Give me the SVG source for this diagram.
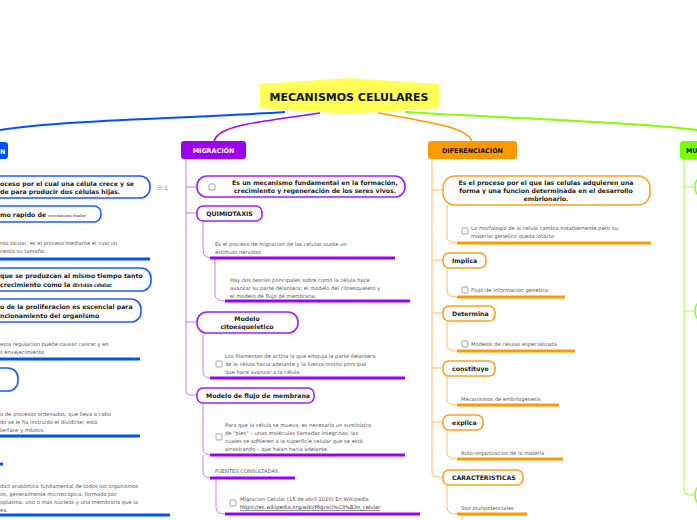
<svg xmlns="http://www.w3.org/2000/svg" width="697" height="520" viewBox="0 0 697 520">
<style>
text{font-family:"DejaVu Sans",Verdana,sans-serif;}
.b{font-weight:bold;font-size:6.2px;fill:#222;}
.s{font-size:5.2px;fill:#555;}
.nb{fill:#fff;stroke:#1a5cff;stroke-width:1.6;}
.np{fill:#fff;stroke:#a51bff;stroke-width:1.6;}
.no{fill:#fff;stroke:#ffa01e;stroke-width:1.6;}
.ub{stroke:#0050ff;stroke-width:3;}
.up{stroke:#9900ff;stroke-width:3;}
.uo{stroke:#ff9900;stroke-width:3;}
.cb{fill:#fff;stroke:#999;stroke-width:0.9;}
.lp{fill:none;stroke:#c77dff;stroke-width:1;}
.lo{fill:none;stroke:#ffbb66;stroke-width:1;}
.lg{fill:none;stroke:#aaff55;stroke-width:1.2;}
</style>
<rect width="697" height="520" fill="#fff"/>
<g id="connectors" fill="none">
<path d="M285,112 C200,118 60,120 0,130" stroke="#0050ff" stroke-width="2"/>
<path d="M320,113 C260,122 214,125 214,143" stroke="#a000ff" stroke-width="1.6"/>
<path d="M378,113 C430,122 472,128 472,143" stroke="#ff9900" stroke-width="1.6"/>
<path d="M405,112 C500,118 640,122 697,130" stroke="#80ff00" stroke-width="2"/>
<path class="lp" d="M186,159 V390 Q186,395 191,395 H197 M186,187 H197 M186,213 H197 M186,322 H197"/>
<path class="lp" d="M203,221 V250 Q203,258 212,258 M215,258 V295 Q215,301 225,301 M203,333 V372 Q203,378 212,378 M203,403 V449 Q203,455 212,455 M203,455 V472 Q203,478 212,478 M216,478 V508 Q216,514 226,514"/>
<path class="lo" d="M432,159 V472 Q432,477 437,477 H443 M432,190 H443 M432,260 H443 M432,313 H443 M432,368 H443 M432,422 H443"/>
<path class="lo" d="M447,205 V237 Q447,243 457,243 M447,268 V291 Q447,297 457,297 M447,321 V345 Q447,351 457,351 M447,376 V399 Q447,405 457,405 M447,430 V453 Q447,459 457,459 M447,485 V508 Q447,514 457,514 M462,514 V520"/>
<path class="lg" d="M684,159 V490 Q684,495 690,495 H697 M684,187 H697 M684,311 H697"/>
</g>
<g id="central">
<polygon points="260,84 349,78 439,84 439,108 349,114 260,108" fill="#ffff55"/>
<text x="349" y="100.5" text-anchor="middle" style="font-weight:bold;font-size:11px;fill:#111">MECANISMOS CELULARES</text>
</g>
<g id="division">
<rect x="-20" y="142" width="28" height="17" rx="3" fill="#0050ff"/>
<text x="0" y="153.5" style="font-weight:bold;font-size:6.4px;fill:#fff">N</text>
<rect class="nb" x="-40" y="176" width="190" height="22" rx="10"/>
<text class="b" x="0" y="186">oceso por el cual una célula crece y se</text>
<text class="b" x="0" y="194">de para producir dos células hijas.</text>
<text x="157" y="190" style="font-size:6px;fill:#888">☰ 1</text>
<rect class="nb" x="-40" y="206" width="141" height="16" rx="7"/>
<text class="b" x="0" y="216.5">mo rapido de <tspan style="font-family:'Liberation Serif',serif;font-size:5px;font-weight:normal">crecimiento tisular</tspan></text>
<text class="s" x="0" y="245">nto tisular, es el proceso mediante el cual un</text>
<text class="s" x="0" y="253">nenta su tamaño.</text>
<line class="ub" x1="0" y1="259" x2="150" y2="259"/>
<rect class="nb" x="-40" y="268" width="191" height="23" rx="10"/>
<text class="b" x="0" y="278">que se produzcan al mismo tiempo tanto</text>
<text class="b" x="0" y="286.5">crecimiento como la <tspan style="font-family:'Liberation Serif',serif;font-size:6px">división celular.</tspan></text>
<rect class="nb" x="-40" y="299" width="181" height="23" rx="10"/>
<text class="b" x="0" y="309">o de la proliferacion es escencial para</text>
<text class="b" x="0" y="317.5">ncionamiento del organismo</text>
<text class="s" x="0" y="346">esta regulacion puede causar cancer y en</text>
<text class="s" x="0" y="354">s envejecimiento</text>
<line class="ub" x1="0" y1="359" x2="140" y2="359"/>
<rect class="nb" x="-40" y="368" width="58" height="23" rx="10"/>
<text class="s" x="0" y="416">o de procesos ordenados, que lleva a cabo</text>
<text class="s" x="0" y="424">do se le ha instruido el dividirse; está</text>
<text class="s" x="0" y="432">terfase y mitosis.</text>
<line class="ub" x1="0" y1="436" x2="140" y2="436"/>
<line class="ub" x1="0" y1="464" x2="3" y2="464"/>
<text class="s" x="0" y="488">dad anatómica fundamental de todos los organismos</text>
<text class="s" x="0" y="496">os, generalmente microscópica, formada por</text>
<text class="s" x="0" y="504">oplasma, uno o más núcleos y una membrana que la</text>
<text class="s" x="0" y="512">ea.</text>
<line class="ub" x1="0" y1="515" x2="170" y2="515"/>
</g>
<g id="migracion">
<rect x="181" y="141" width="65" height="18" rx="3" fill="#a000f0"/>
<text x="213.5" y="153" text-anchor="middle" style="font-weight:bold;font-size:6.4px;fill:#fff">MIGRACIÓN</text>
<rect class="np" x="197" y="176" width="208" height="21" rx="10"/>
<rect class="cb" x="209" y="184" width="6" height="6" rx="1"/>
<text class="b" x="315" y="185" text-anchor="middle">Es un mecanismo fundamental en la formación,</text>
<text class="b" x="315" y="193" text-anchor="middle">crecimiento y regeneración de los seres vivos.</text>
<rect class="np" x="197" y="206" width="65" height="15" rx="6"/>
<text class="b" x="229.5" y="216" text-anchor="middle">QUIMIOTAXIS</text>
<text class="s" x="215" y="246">Es el proceso de migracion de las celulas aunte un</text>
<text class="s" x="215" y="254">estimulo nervioso</text>
<line class="up" x1="210" y1="258" x2="395" y2="258"/>
<text class="s" x="230" y="282">Hay dos teorías principales sobre como la célula hace</text>
<text class="s" x="230" y="290">avanzar su parte delantera: el modelo del citoesqueleto y</text>
<text class="s" x="230" y="298">el modelo de flujo de membrana.</text>
<line class="up" x1="225" y1="301" x2="410" y2="301"/>
<rect class="np" x="197" y="312" width="101" height="21" rx="10"/>
<text class="b" x="247" y="321" text-anchor="middle">Modelo</text>
<text class="b" x="247" y="329" text-anchor="middle">citoesqueletico</text>
<rect class="cb" x="216" y="361" width="6" height="6" rx="1"/>
<text class="s" x="225" y="358">Los filamentos de actina lo que empuja la parte delantera</text>
<text class="s" x="225" y="366">de la célula hacia adelante y la fuerza motriz principal</text>
<text class="s" x="225" y="374">que hace avanzar a la célula.</text>
<line class="up" x1="210" y1="378" x2="405" y2="378"/>
<rect class="np" x="197" y="388" width="117" height="15" rx="6"/>
<text class="b" x="206" y="398">Modelo de flujo de membrana</text>
<rect class="cb" x="216" y="434" width="6" height="6" rx="1"/>
<text class="s" x="225" y="427">Para que la célula se mueva, es necesario un suministro</text>
<text class="s" x="225" y="435">de "pies" – unas moléculas llamadas integrinas, las</text>
<text class="s" x="225" y="443">cuales se adhieren a la superficie celular que se está</text>
<text class="s" x="225" y="451">arrastrando – que halan hacia adelante.</text>
<line class="up" x1="210" y1="455" x2="405" y2="455"/>
<text class="s" x="215" y="473">FUENTES CONSULTADAS</text>
<line class="up" x1="210" y1="478" x2="295" y2="478"/>
<rect class="cb" x="230" y="500" width="6" height="6" rx="1"/>
<text class="s" x="240" y="501">Migracion Celular (15 de abril 2020) En Wikipedia</text>
<text class="s" x="240" y="509" text-decoration="underline" style="fill:#333">https://es.wikipedia.org/wiki/Migraci%C3%B3n_celular</text>
<line class="up" x1="225" y1="514" x2="420" y2="514"/>
</g>
<g id="diferenciacion">
<rect x="428" y="141" width="89" height="18" rx="3" fill="#ff9900"/>
<text x="472.5" y="153" text-anchor="middle" style="font-weight:bold;font-size:6.4px;fill:#111">DIFERENCIACIÓN</text>
<rect class="no" x="443" y="176" width="207" height="29" rx="12"/>
<text class="b" x="546" y="185" text-anchor="middle">Es el proceso por el que las celulas adquieren una</text>
<text class="b" x="546" y="193" text-anchor="middle">forma y una funcion determinada en el desarrollo</text>
<text class="b" x="546" y="201" text-anchor="middle">embrionario.</text>
<rect class="cb" x="462" y="228" width="6" height="6" rx="1"/>
<text class="s" x="471" y="230">La morfologia de la celula cambia notablemente pero su</text>
<text class="s" x="471" y="238">material genetico queda intacto</text>
<line class="uo" x1="457" y1="243" x2="651" y2="243"/>
<rect class="no" x="443" y="253" width="43" height="15" rx="6"/>
<text class="b" x="452" y="263">Implica</text>
<rect class="cb" x="462" y="287" width="6" height="6" rx="1"/>
<text class="s" x="471" y="292">Flujo de informacion genetica</text>
<line class="uo" x1="457" y1="297" x2="565" y2="297"/>
<rect class="no" x="443" y="306" width="52" height="15" rx="6"/>
<text class="b" x="452" y="316">Determina</text>
<rect class="cb" x="462" y="341" width="6" height="6" rx="1"/>
<text class="s" x="471" y="346">Modelos de celulas especializada</text>
<line class="uo" x1="457" y1="351" x2="575" y2="351"/>
<rect class="no" x="443" y="361" width="52" height="15" rx="6"/>
<text class="b" x="452" y="371">constituye</text>
<text class="s" x="461" y="401">Mecanismos de embriogenesis</text>
<line class="uo" x1="457" y1="405" x2="559" y2="405"/>
<rect class="no" x="443" y="415" width="40" height="15" rx="6"/>
<text class="b" x="452" y="425">explica</text>
<text class="s" x="461" y="455">Auto-organizacion de la materia</text>
<line class="uo" x1="457" y1="459" x2="563" y2="459"/>
<rect class="no" x="443" y="470" width="80" height="15" rx="6"/>
<text class="b" x="452" y="480">CARACTERISTICAS</text>
<text class="s" x="461" y="510">Son pluripotenciales</text>
<line class="uo" x1="457" y1="514" x2="527" y2="514"/>
</g>
<g id="mu">
<rect x="680" y="141" width="30" height="18" rx="3" fill="#77ff00"/>
<text x="686" y="153" style="font-weight:bold;font-size:6.4px;fill:#111">MU</text>
<rect x="695" y="176" width="20" height="22" rx="10" fill="#fff" stroke="#88ff22" stroke-width="1.6"/>
<rect x="695" y="300" width="20" height="22" rx="10" fill="#fff" stroke="#88ff22" stroke-width="1.6"/>
<rect x="695" y="484" width="20" height="22" rx="10" fill="#fff" stroke="#88ff22" stroke-width="1.6"/>
</g>
</svg>
